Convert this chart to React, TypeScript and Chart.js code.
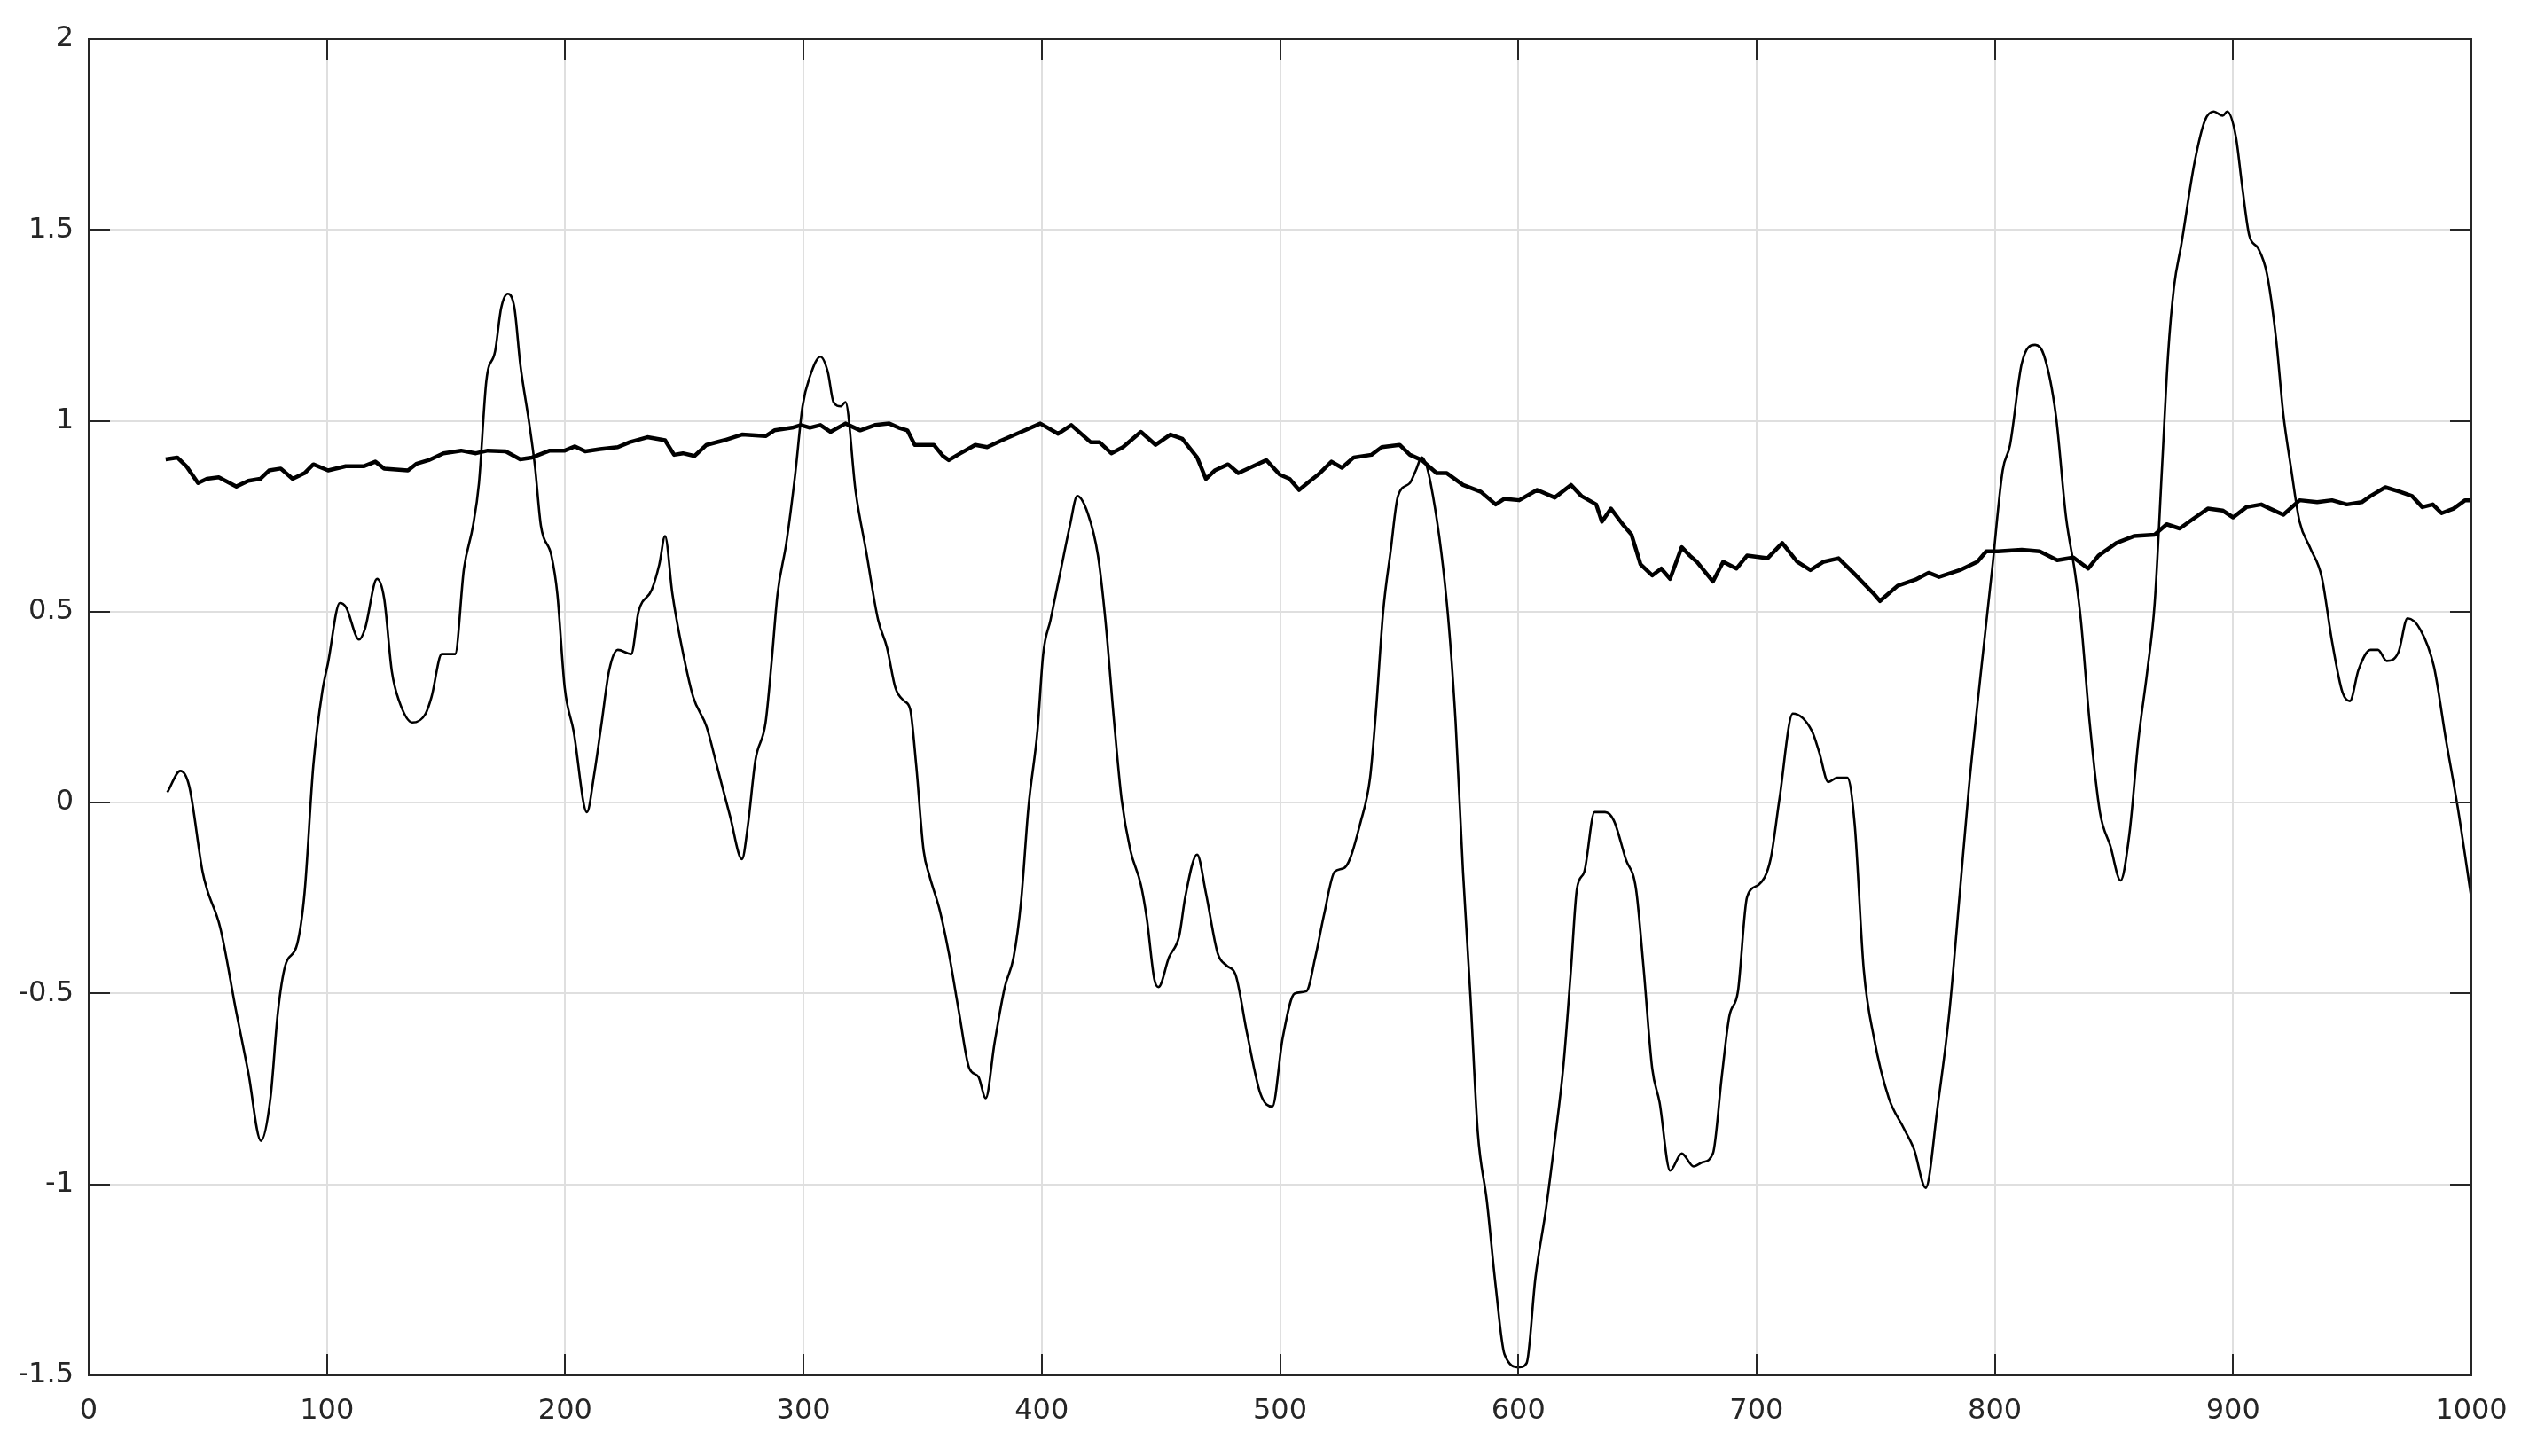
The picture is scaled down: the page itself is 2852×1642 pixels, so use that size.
import React, { useEffect, useRef } from "react";
import { Chart, registerables } from "chart.js";

Chart.register(...registerables);

// Axis ranges / ticks
const xMin = 0;
const xMax = 1000;
const xStep = 100;
const yMin = -1.5;
const yMax = 2;
const yStep = 0.5;

// Oscillating (thin) series
const signalX = [
  33, 38.5, 42.2, 47.8, 49.6, 55.2, 62, 67, 72.3, 76.3, 79.4, 82.5, 87.5, 90.6, 94.3, 98,
  100.5, 105.4, 108, 113.5, 116, 121, 124, 127.2, 130.3, 135.8, 141.4, 143.9, 148.2, 153.8,
  157.5, 161.3, 163.8, 166.9, 170.6, 173.1, 175.9, 178.7, 181.1, 184.9, 187.3, 189.8, 194.2,
  196.7, 199.8, 203.5, 209.1, 212.2, 215.3, 218.4, 222.1, 227.7, 230.8, 236.3, 239.5, 241.9,
  245, 248.1, 253.7, 259.3, 263.6, 269.2, 274.2, 276.7, 279.8, 284.1, 286.6, 289.1, 292.8,
  296.5, 299.6, 302.7, 307.1, 310.2, 312.6, 315.7, 317.6, 321.9, 326.3, 331.3, 335, 338.6,
  342.3, 344.8, 347.3, 350.4, 352.9, 357.2, 361, 365.3, 369.6, 373.4, 376.5, 380.2, 384.5,
  388.2, 391.3, 394.4, 398.2, 400.6, 403.7, 408.1, 411.8, 414.9, 419.3, 423.6, 426.7, 430.4,
  433.5, 437.2, 441.6, 444.1, 447.2, 449, 453.4, 457.7, 460.2, 465.2, 468.9, 473.8, 477.6,
  481.3, 486.2, 491.8, 496.8, 501.1, 506.1, 511.1, 514.8, 518.5, 522.9, 527.2, 534, 537.8,
  540.2, 543.3, 546.4, 549.5, 554.5, 557, 559.5, 563.2, 570, 573.7, 576.8, 579.9, 583, 586.8,
  590.5, 594.2, 600.4, 603.5, 607.2, 611.6, 615.3, 619, 622.1, 624.6, 627.7, 632, 636.4, 640.1,
  645.1, 649.4, 652.5, 656.2, 659.3, 663.7, 668.6, 673.6, 677.3, 681.7, 685.4, 688.5, 692.2,
  696, 700.9, 705.9, 709.6, 715.2, 723.2, 726.3, 730.1, 733.8, 738.1, 741.2, 745, 749.3, 755.5,
  761.7, 766.1, 771, 776, 780.9, 785.3, 789, 794, 798.9, 803.3, 806.4, 811.3, 816.9, 820.6,
  825.6, 829.9, 833.7, 836.1, 839.8, 844.1, 848.5, 852.8, 856.5, 860.3, 864, 867.1, 870.2,
  872.7, 875.2, 878.3, 883.8, 888.2, 891.9, 895.6, 897.5, 901.2, 903.7, 906.8, 910.5, 914.2,
  918, 921.1, 924.2, 927.9, 932.2, 937.2, 941.5, 945.9, 949, 952.7, 957.7, 960.8, 964.5, 969.4,
  973.2, 978.7, 984.3, 989.3, 994.3, 1000,
];
const signalY = [
  0.027, 0.083, 0.043, -0.181, -0.226, -0.327, -0.55, -0.707, -0.886, -0.774, -0.55, -0.427,
  -0.371, -0.237, 0.098, 0.289, 0.367, 0.523, 0.512, 0.427, 0.456, 0.586, 0.535, 0.345, 0.266,
  0.21, 0.233, 0.277, 0.389, 0.389, 0.613, 0.725, 0.837, 1.105, 1.183, 1.295, 1.333, 1.295,
  1.15, 0.993, 0.881, 0.725, 0.647, 0.546, 0.3, 0.188, -0.025, 0.076, 0.21, 0.345, 0.4, 0.389,
  0.501, 0.557, 0.624, 0.698, 0.546, 0.434, 0.277, 0.199, 0.098, -0.036, -0.148, -0.058, 0.11,
  0.21, 0.367, 0.546, 0.68, 0.859, 1.038, 1.116, 1.168, 1.128, 1.049, 1.038, 1.049, 0.814,
  0.658, 0.479, 0.407, 0.3, 0.266, 0.244, 0.098, -0.125, -0.192, -0.282, -0.394, -0.55, -0.696,
  -0.718, -0.774, -0.629, -0.483, -0.405, -0.26, -0.013, 0.188, 0.389, 0.479, 0.613, 0.725,
  0.803, 0.758, 0.647, 0.479, 0.21, 0.009, -0.125, -0.215, -0.304, -0.461, -0.483, -0.405,
  -0.349, -0.248, -0.136, -0.237, -0.394, -0.427, -0.45, -0.606, -0.763, -0.796, -0.617, -0.5,
  -0.494, -0.405, -0.293, -0.181, -0.17, -0.047, 0.065, 0.233, 0.501, 0.658, 0.803, 0.837,
  0.87, 0.904, 0.837, 0.523, 0.21, -0.181, -0.506, -0.864, -1.043, -1.266, -1.445, -1.479,
  -1.468, -1.244, -1.065, -0.886, -0.685, -0.438, -0.226, -0.181, -0.025, -0.025, -0.047,
  -0.148, -0.226, -0.427, -0.696, -0.785, -0.964, -0.919, -0.953, -0.942, -0.919, -0.718,
  -0.562, -0.494, -0.248, -0.215, -0.148, 0.009, 0.233, 0.188, 0.132, 0.054, 0.065, 0.065,
  -0.058, -0.438, -0.617, -0.774, -0.852, -0.908, -1.009, -0.796, -0.55, -0.237, 0.031, 0.333,
  0.613, 0.87, 0.937, 1.15, 1.199, 1.172, 1.016, 0.747, 0.6, 0.479, 0.21, -0.025, -0.114,
  -0.204, -0.081, 0.166, 0.345, 0.523, 0.881, 1.172, 1.351, 1.463, 1.676, 1.787, 1.81, 1.799,
  1.81, 1.743, 1.62, 1.485, 1.452, 1.385, 1.217, 1.016, 0.881, 0.736, 0.669, 0.591, 0.423,
  0.289, 0.266, 0.349, 0.4, 0.4, 0.371, 0.394, 0.483, 0.452, 0.356, 0.166, -0.013, -0.25,
];

// Slowly varying noisy (thick) series
const trendX = [
  32.3, 37.2, 41, 45.9, 49.6, 54.6, 62, 67, 72, 75.7, 80.6, 85.6, 90.6, 94.3, 100.5, 107.9,
  115.4, 120.3, 124, 134, 137.7, 142.7, 148.9, 156.3, 162.5, 167.5, 175, 181.1, 186.1, 193.5,
  199.8, 204.1, 208.4, 214.6, 222.1, 227.1, 234.5, 241.9, 245.7, 249.4, 254.3, 259.3, 266.7,
  274.2, 284.1, 287.8, 295.3, 298.9, 302.7, 307.1, 311.4, 317.6, 323.8, 330, 336, 339.9, 343.6,
  346.7, 351, 354.7, 358.5, 361, 365.9, 372.1, 377.1, 383.3, 389.5, 399.4, 406.9, 412.4, 420.5,
  424.2, 429.2, 434.1, 441.6, 447.8, 454, 459, 465.2, 468.9, 472.6, 478.2, 482.5, 488.7, 494.3,
  499.9, 504, 508, 512.3, 516, 521.6, 526, 530.9, 538.4, 542.7, 550.2, 554.5, 559.5, 565.7,
  570, 576.8, 584.3, 590.5, 594.2, 600.4, 607.9, 615.3, 622.1, 626.5, 632.7, 635.1, 638.9,
  643.8, 647.5, 651.3, 656.2, 660, 663.7, 668.6, 672, 674.9, 681.7, 686, 691.6, 696, 704.6,
  710.8, 717, 722.6, 728.2, 734.4, 740.6, 749.3, 751.8, 759.2, 766.7, 772.2, 776.6, 785.3,
  792.7, 796.4, 801.4, 811.3, 818.8, 826.2, 833, 839.2, 843.5, 851, 858.4, 867.1, 872.1, 877.6,
  883.2, 889.4, 895.6, 900, 905.6, 911.8, 915.5, 921.1, 927.9, 935.3, 941.5, 947.7, 954, 957.7,
  963.9, 970.1, 975.1, 979.4, 983.8, 987.5, 992.5, 997.4, 1000,
];
const trendY = [
  0.899, 0.904, 0.881, 0.837, 0.848, 0.852, 0.828, 0.843, 0.848, 0.87, 0.875, 0.848, 0.863,
  0.886, 0.87, 0.881, 0.881, 0.893, 0.875, 0.87, 0.888, 0.897, 0.915, 0.922, 0.915, 0.922,
  0.92, 0.899, 0.904, 0.922, 0.922, 0.933, 0.92, 0.926, 0.931, 0.944, 0.957, 0.949, 0.911,
  0.915, 0.908, 0.937, 0.949, 0.964, 0.96, 0.975, 0.982, 0.989, 0.982, 0.989, 0.971, 0.993,
  0.975, 0.989, 0.993, 0.982, 0.975, 0.937, 0.937, 0.937, 0.908, 0.897, 0.915, 0.937, 0.931,
  0.949, 0.966, 0.993, 0.966, 0.989, 0.944, 0.944, 0.915, 0.931, 0.971, 0.937, 0.964, 0.953,
  0.904, 0.848, 0.87, 0.886, 0.863, 0.881, 0.897, 0.859, 0.848, 0.819, 0.841, 0.859, 0.893,
  0.877, 0.904, 0.911, 0.931, 0.937, 0.911, 0.897, 0.863, 0.863, 0.832, 0.814, 0.781, 0.796,
  0.792, 0.819, 0.799, 0.832, 0.803, 0.781, 0.736, 0.77, 0.729, 0.702, 0.624, 0.595, 0.613,
  0.586, 0.669, 0.647, 0.631, 0.579, 0.631, 0.613, 0.647, 0.64, 0.68, 0.631, 0.609, 0.631,
  0.64, 0.602, 0.546, 0.528, 0.568, 0.584, 0.602, 0.591, 0.609, 0.631, 0.658, 0.658, 0.662,
  0.658, 0.635, 0.642, 0.613, 0.647, 0.68, 0.698, 0.702, 0.729, 0.718, 0.743, 0.77, 0.765,
  0.747, 0.774, 0.781, 0.77, 0.754, 0.792, 0.787, 0.792, 0.781, 0.787, 0.803, 0.826, 0.814,
  0.803, 0.774, 0.781, 0.758, 0.77, 0.792, 0.792,
];

const AXIS_COLOR = "#262626";
const GRID_COLOR = "#dfdfdf";
const TICK_LEN = 24;

const boxPlugin = {
  id: "matlabBox",
  afterDatasetsDraw(chart: any) {
    const { ctx, chartArea: a, scales } = chart;
    const xs = scales.x;
    const ys = scales.y;
    ctx.save();
    ctx.strokeStyle = AXIS_COLOR;
    ctx.lineWidth = 2;
    ctx.beginPath();
    xs.ticks.forEach((t: any) => {
      const px = Math.round(xs.getPixelForValue(t.value));
      ctx.moveTo(px, a.bottom);
      ctx.lineTo(px, a.bottom - TICK_LEN);
      ctx.moveTo(px, a.top);
      ctx.lineTo(px, a.top + TICK_LEN);
    });
    ys.ticks.forEach((t: any) => {
      const py = Math.round(ys.getPixelForValue(t.value));
      ctx.moveTo(a.left, py);
      ctx.lineTo(a.left + TICK_LEN, py);
      ctx.moveTo(a.right, py);
      ctx.lineTo(a.right - TICK_LEN, py);
    });
    ctx.stroke();
    ctx.strokeRect(a.left, a.top, a.right - a.left, a.bottom - a.top);
    ctx.restore();
  },
};

export default function App() {
  const canvasRef = useRef<HTMLCanvasElement | null>(null);

  useEffect(() => {
    const canvas = canvasRef.current;
    if (!canvas) return;
    const signalPts = signalX.map((x, i) => ({ x, y: signalY[i] }));
    const trendPts = trendX.map((x, i) => ({ x, y: trendY[i] }));
    const tickFont = { family: "'DejaVu Sans', 'Liberation Sans', Arial, sans-serif", size: 32 };

    const chart = new Chart(canvas, {
      type: "line",
      data: {
        datasets: [
          {
            label: "signal",
            data: signalPts,
            borderColor: "#000000",
            borderWidth: 2.6,
            pointRadius: 0,
            fill: false,
            cubicInterpolationMode: "monotone",
          },
          {
            label: "trend",
            data: trendPts,
            borderColor: "#000000",
            borderWidth: 4.5,
            borderJoinStyle: "round",
            pointRadius: 0,
            fill: false,
            tension: 0,
          },
        ],
      },
      options: {
        animation: false,
        responsive: false,
        devicePixelRatio: 1,
        layout: { padding: { left: 0, top: 36, right: 57, bottom: 0 } },
        plugins: {
          legend: { display: false },
          tooltip: { enabled: false },
        },
        scales: {
          x: {
            type: "linear",
            min: xMin,
            max: xMax,
            border: { display: false },
            grid: { color: GRID_COLOR, lineWidth: 2, drawTicks: false },
            ticks: {
              stepSize: xStep,
              padding: 21,
              color: AXIS_COLOR,
              font: tickFont,
              maxRotation: 0,
              autoSkip: false,
              callback: (v: any) => String(v),
            },
            afterFit: (s: any) => {
              s.height = 83;
              s.paddingLeft = 0;
              s.paddingRight = 0;
            },
          },
          y: {
            type: "linear",
            min: yMin,
            max: yMax,
            border: { display: false },
            grid: { color: GRID_COLOR, lineWidth: 2, drawTicks: false },
            ticks: {
              stepSize: yStep,
              padding: 17,
              color: AXIS_COLOR,
              font: tickFont,
              autoSkip: false,
              callback: (v: any) => String(v),
            },
            afterFit: (s: any) => {
              s.width = 92;
              s.paddingTop = 0;
              s.paddingBottom = 0;
            },
          },
        },
      },
      plugins: [boxPlugin],
    });
    return () => chart.destroy();
  }, []);

  return (
    <div style={{ width: 2836, height: 1626 }}>
      <canvas ref={canvasRef} width={2836} height={1626} style={{ display: "block" }} />
    </div>
  );
}
